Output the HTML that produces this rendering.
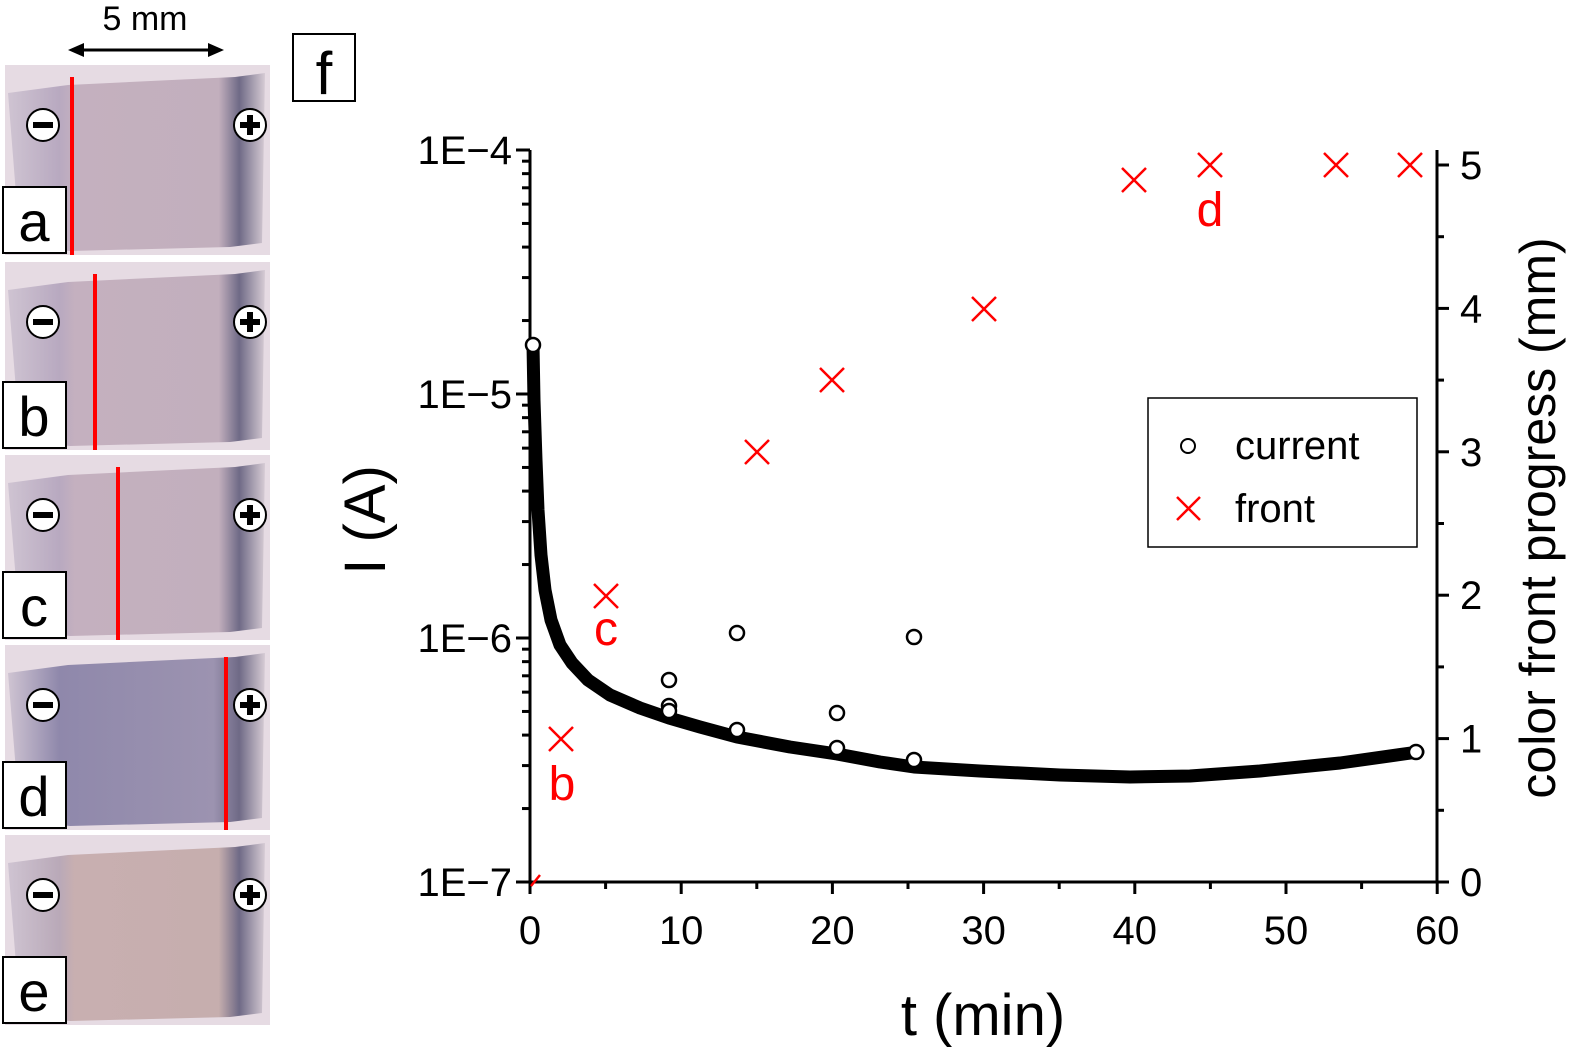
<!DOCTYPE html>
<html><head><meta charset="utf-8"><style>
html,body{margin:0;padding:0;background:#fff;}
svg{display:block;font-family:"Liberation Sans",Arial,sans-serif;}
</style></head><body>
<svg id="s" width="1570" height="1049" viewBox="0 0 1570 1049" xmlns="http://www.w3.org/2000/svg">
<defs>
<linearGradient id="pg" x1="0" x2="1" y1="0" y2="0">
<stop offset="0" stop-color="#cfc4d2"/><stop offset="0.2" stop-color="#b8a9c0"/><stop offset="0.26" stop-color="#c4b0bf"/><stop offset="0.82" stop-color="#c2afbd"/><stop offset="0.9" stop-color="#6f6a86"/><stop offset="1" stop-color="#d6cbd4"/>
</linearGradient>
<linearGradient id="pgd" x1="0" x2="1" y1="0" y2="0">
<stop offset="0" stop-color="#cfc4d2"/><stop offset="0.2" stop-color="#8f88ab"/><stop offset="0.8" stop-color="#9c93b0"/><stop offset="0.9" stop-color="#6f6a86"/><stop offset="1" stop-color="#d6cbd4"/>
</linearGradient>
<linearGradient id="pge" x1="0" x2="1" y1="0" y2="0">
<stop offset="0" stop-color="#cfc4d2"/><stop offset="0.2" stop-color="#b9a9b8"/><stop offset="0.26" stop-color="#c8afb0"/><stop offset="0.82" stop-color="#c6aeae"/><stop offset="0.9" stop-color="#6f6a86"/><stop offset="1" stop-color="#d6cbd4"/>
</linearGradient>
</defs>
<g id="photos"></g>
<text x="145" y="30" font-size="34" text-anchor="middle">5 mm</text>
<line x1="82" y1="50" x2="212" y2="50" stroke="#000" stroke-width="3"/>
<polygon points="68,50 84,43 84,57" fill="#000"/><polygon points="224,50 208,43 208,57" fill="#000"/>
<rect x="293" y="34" width="62" height="67" fill="#fff" stroke="#000" stroke-width="2"/>
<text x="324" y="94" font-size="60" text-anchor="middle">f</text>
<g id="ax" stroke="#000" stroke-width="3" fill="none"></g>
<g id="lab" font-size="40"></g>
<path d="M533,345 L534,400 L536,460 L538,510 L541,555 L545,590 L551,620 L560,645 L572,663 L588,680 L610,695 L640,708 L669,718 L700,727 L737,737 L790,747 L837,754 L880,762 L914,767 L980,771 L1060,775 L1130,777 L1190,776 L1260,771 L1340,763 L1418,752" stroke="#000" stroke-width="13" fill="none" stroke-linejoin="round" stroke-linecap="round"/>
<g id="circ" fill="#fff" stroke="#000" stroke-width="2.5"></g>
<g id="cross" stroke="#f00" stroke-width="2.5"></g>
<g fill="#f00" font-size="48" text-anchor="middle">
<text x="562" y="800">b</text><text x="606" y="645">c</text><text x="1210" y="226">d</text></g>
<rect x="1148" y="398" width="269" height="149" fill="#fff" stroke="#000" stroke-width="1.5"/>
<circle cx="1188" cy="446" r="7" fill="#fff" stroke="#000" stroke-width="2"/>
<text x="1235" y="459" font-size="40">current</text>
<path d="M1177,497 L1200,520 M1200,497 L1177,520" stroke="#f00" stroke-width="2.5"/>
<text x="1235" y="522" font-size="40">front</text>
<text x="983" y="1035" font-size="58" text-anchor="middle">t (min)</text>
<text transform="translate(385,520) rotate(-90)" font-size="58" text-anchor="middle">I (A)</text>
<text transform="translate(1555,518) rotate(-90)" font-size="50" text-anchor="middle">color front progress (mm)</text>
</svg>
<script>
const NS="http://www.w3.org/2000/svg";
function el(p,t,a,txt){const e=document.createElementNS(NS,t);for(const k in a)e.setAttribute(k,a[k]);if(txt!==undefined)e.textContent=txt;document.getElementById(p).appendChild(e);return e;}
const ph=[[65,255,72,'pg'],[262,450,95,'pg'],[455,640,118,'pg'],[645,830,226,'pgd'],[835,1025,null,'pge']];
const L=['a','b','c','d','e'];
ph.forEach((p,i)=>{const[y0,y1,rx,g]=p;
el('photos','rect',{x:5,y:y0,width:265,height:y1-y0,fill:'#e6dbe3'});
el('photos','polygon',{points:`8,${y0+28} 68,${y0+20} 235,${y0+12} 265,${y0+8} 262,${y1-12} 230,${y1-8} 70,${y1-4} 20,${y1-10}`,fill:`url(#${g})`});
el('photos','circle',{cx:43,cy:y0+60,r:16,fill:'#fff',stroke:'#000','stroke-width':2});
el('photos','rect',{x:33,y:y0+57,width:20,height:6,fill:'#000'});
el('photos','circle',{cx:250,cy:y0+60,r:16,fill:'#fff',stroke:'#000','stroke-width':2});
el('photos','rect',{x:240,y:y0+57,width:20,height:6,fill:'#000'});
el('photos','rect',{x:247,y:y0+50,width:6,height:20,fill:'#000'});
if(rx)el('photos','line',{x1:rx,y1:y0+12,x2:rx,y2:y1,stroke:'#f00','stroke-width':4});
el('photos','rect',{x:3,y:y1-68,width:63,height:66,fill:'#fff',stroke:'#000','stroke-width':2});
el('photos','text',{x:34,y:y1-14,'font-size':56,'text-anchor':'middle'},L[i]);
});
el('ax','line',{x1:530,y1:150,x2:530,y2:882});
el('ax','line',{x1:530,y1:882,x2:1437,y2:882});
el('ax','line',{x1:1437,y1:150,x2:1437,y2:882});
const X=t=>530+t*15.12;
for(let t=0;t<=60;t+=5){const big=t%10==0;el('ax','line',{x1:X(t),y1:882,x2:X(t),y2:882+(big?12:7)});
if(big)el('lab','text',{x:X(t),y:944,'text-anchor':'middle'},String(t));}
const dec=[150,394,638];const labs=['1E\u22124','1E\u22125','1E\u22126','1E\u22127'];
[150,394,638,882].forEach((y,i)=>{el('ax','line',{x1:516,y1:y,x2:530,y2:y});el('lab','text',{x:512,y:y+14,'text-anchor':'end'},labs[i]);});
dec.forEach(d=>{for(let k=2;k<=9;k++){const y=d+244*(1-Math.log10(k));el('ax','line',{x1:522,y1:y,x2:530,y2:y});}});
const Y=m=>882-m*143.4;
for(let m=0;m<=5;m+=0.5){const big=m%1==0;el('ax','line',{x1:1437,y1:Y(m),x2:1437+(big?12:7),y2:Y(m)});
if(big)el('lab','text',{x:1460,y:Y(m)+14},String(m));}
[[533,345],[669,680],[669,706],[669,711],[737,633],[737,730],[837,713],[837,748],[914,637],[914,760],[1416,752]].forEach(c=>el('circ','circle',{cx:c[0],cy:c[1],r:7}));
[[561,739],[606,596],[757,452],[832,380],[984,309],[1134,180],[1210,165],[1336,165],[1410,165]].forEach(c=>el('cross','path',{d:`M${c[0]-12},${c[1]-12} L${c[0]+12},${c[1]+12} M${c[0]+12},${c[1]-12} L${c[0]-12},${c[1]+12}`}));
el('cross','path',{d:'M531,886 L540,875'});
</script>
</body></html>
